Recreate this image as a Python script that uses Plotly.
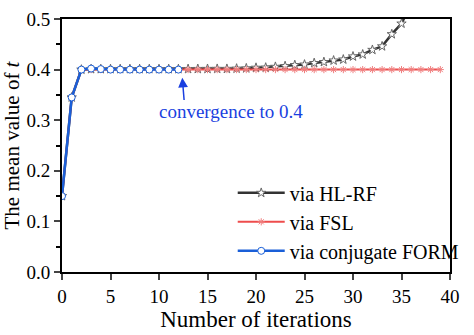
import plotly.graph_objects as go

iters_hl = list(range(0, 37))
hl_rf = [0.15, 0.345, 0.400, 0.401, 0.401, 0.401, 0.401, 0.401, 0.401, 0.401,
         0.401, 0.401, 0.401, 0.4012, 0.4013, 0.4014, 0.4015, 0.4015, 0.402, 0.4025,
         0.4037, 0.404, 0.4055, 0.407, 0.409, 0.410, 0.413, 0.415, 0.418, 0.420,
         0.426, 0.430, 0.439, 0.446, 0.470, 0.491, 0.53]

iters_fsl = list(range(0, 40))
fsl = [0.15, 0.345] + [0.400] * 38

iters_cf = list(range(0, 13))
conj_form = [0.15, 0.345, 0.400, 0.402, 0.401, 0.400, 0.400, 0.400, 0.400, 0.400,
             0.400, 0.400, 0.400]

x_ticks = [0, 5, 10, 15, 20, 25, 30, 35, 40]
y_ticks = [0.0, 0.1, 0.2, 0.3, 0.4, 0.5]

FONT = "Liberation Serif"

fig = go.Figure()
fig.add_trace(go.Scatter(
    x=iters_hl, y=hl_rf, mode="lines+markers", name="via HL-RF",
    line=dict(color="#333333", width=2.5),
    marker=dict(symbol="star", size=7, color="white", line=dict(color="#666666", width=1)),
))
fig.add_trace(go.Scatter(
    x=iters_fsl, y=fsl, mode="lines+markers", name="via FSL",
    line=dict(color="#ee4c4c", width=2),
    marker=dict(symbol="asterisk-open", size=6, color="#f08080", line=dict(color="#f08080", width=1)),
))
fig.add_trace(go.Scatter(
    x=iters_cf, y=conj_form, mode="lines+markers", name="via conjugate FORM",
    line=dict(color="#1a5fd8", width=2.5),
    marker=dict(symbol="circle", size=7, color="white", line=dict(color="#1a5fd8", width=1)),
))

fig.add_annotation(x=12.4, y=0.384, ax=12.6, ay=0.337, xref="x", yref="y", axref="x", ayref="y",
                   text="", showarrow=True, arrowhead=2, arrowsize=1.3, arrowwidth=1.5,
                   arrowcolor="#1a3fe0")
fig.add_annotation(x=17.4, y=0.317, xref="x", yref="y", text="convergence to 0.4",
                   showarrow=False, font=dict(family=FONT, size=19, color="#1a3fe0"))

fig.update_layout(
    width=474, height=335,
    margin=dict(l=61, r=11, t=9, b=54),
    paper_bgcolor="white", plot_bgcolor="white",
    font=dict(family=FONT, size=19, color="black"),
    legend=dict(x=0.44, y=0.39, xanchor="left", yanchor="top",
                bgcolor="rgba(0,0,0,0)", font=dict(family=FONT, size=20),
                itemwidth=47, tracegroupgap=0),
    xaxis=dict(range=[0, 40], tickvals=x_ticks, ticks="outside", ticklen=6, tickwidth=2,
               tickfont=dict(family=FONT, size=19, color="black"),
               showline=True, linewidth=2, linecolor="black", mirror=True,
               showgrid=False, zeroline=False,
               title=dict(text="Number of iterations", font=dict(family=FONT, size=23), standoff=3)),
    yaxis=dict(range=[0, 0.5], tickvals=y_ticks, tickformat=".1f", ticks="outside", ticklen=6,
               tickwidth=2, tickfont=dict(family=FONT, size=19, color="black"),
               showline=True, linewidth=2, linecolor="black", mirror=True,
               showgrid=False, zeroline=False,
               minor=dict(dtick=0.05, ticks="outside", ticklen=4, tickwidth=1.5, tickcolor="black"),
               title=dict(text="The mean value of <i>t</i>", font=dict(family=FONT, size=21), standoff=3)),
)

fig.write_html("out.html")
